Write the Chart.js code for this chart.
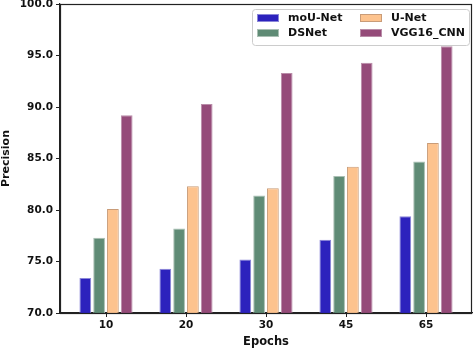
<!DOCTYPE html>
<html>
<head>
<meta charset="utf-8">
<script src="https://cdn.jsdelivr.net/npm/chart.js@4.4.0/dist/chart.umd.min.js"></script>
<style>
  html, body { margin: 0; padding: 0; background: #fff; }
  #wrap { width: 474px; height: 361px; }
</style>
</head>
<body>
<div id="wrap"><canvas id="precisionChart"></canvas></div>
<script>
// Data
const epochs = ['10', '20', '30', '45', '65'];
const mouNet = [73.4, 74.3, 75.2, 77.1, 79.4];
const dsNet = [77.3, 78.2, 81.4, 83.3, 84.7];
const uNet = [80.1, 82.3, 82.1, 84.2, 86.5];
const vggCnn = [89.2, 90.3, 93.3, 94.3, 95.9];
const yTicks = [70, 75, 80, 85, 90, 95, 100];

const FONT = 'DejaVu Sans';

// legend drawn matplotlib style, 2 columns inside the axes
const boxLegend = {
    id: 'boxLegend',
    afterDraw(chart) {
        const ctx = chart.ctx;
        const area = chart.chartArea;
        // frame round the axes (top/right spines)
        ctx.save();
        ctx.strokeStyle = '#222';
        ctx.lineWidth = 1.2;
        ctx.strokeRect(area.left + 0.5, area.top + 0.5, area.right - area.left - 1, area.bottom - area.top);
        ctx.restore();

        const x0 = 252, y0 = 9, w = 217, h = 36;
        ctx.save();
        ctx.fillStyle = 'rgba(255,255,255,0.85)';
        ctx.strokeStyle = '#cccccc';
        ctx.lineWidth = 1;
        ctx.beginPath();
        ctx.roundRect(x0 + 0.5, y0 + 0.5, w, h, 3);
        ctx.fill();
        ctx.stroke();

        const cols = [257, 360];
        const rows = [18, 33];
        ctx.font = 'bold 11px "' + FONT + '"';
        ctx.textBaseline = 'middle';
        chart.data.datasets.forEach((ds, i) => {
            const cx = cols[Math.floor(i / 2)];
            const cy = rows[i % 2];
            ctx.fillStyle = ds.backgroundColor;
            ctx.fillRect(cx, cy - 4, 22, 8);
            ctx.strokeStyle = ds.borderColor;
            ctx.strokeRect(cx + 0.5, cy - 3.5, 21, 7);
            ctx.fillStyle = '#111';
            ctx.fillText(ds.label, cx + 31, cy + 0.5);
        });
        ctx.restore();
    }
};

window.onload = function() {
    new Chart(document.getElementById('precisionChart'), {
        type: 'bar',
        data: {
            labels: epochs,
            datasets: [
                { label: 'moU-Net', data: mouNet, backgroundColor: '#2c22bd', borderColor: '#8a86d8', borderWidth: 1 },
                { label: 'DSNet', data: dsNet, backgroundColor: '#5f8b75', borderColor: '#a9bfb3', borderWidth: 1 },
                { label: 'U-Net', data: uNet, backgroundColor: '#fdc38e', borderColor: '#c99c78', borderWidth: 1 },
                { label: 'VGG16_CNN', data: vggCnn, backgroundColor: '#954b79', borderColor: '#b98ca8', borderWidth: 1 }
            ]
        },
        options: {
            responsive: true,
            maintainAspectRatio: false,
            animation: false,
            categoryPercentage: 0.69,
            barPercentage: 0.85,
            layout: { padding: { top: 4, right: 2, left: 0, bottom: 12 } },
            plugins: {
                legend: { display: false },
                tooltip: { enabled: false }
            },
            scales: {
                x: {
                    grid: { offset: false, drawOnChartArea: false, tickLength: 4, color: '#222' },
                    border: { color: '#222', width: 1.2 },
                    ticks: { color: '#111', font: { family: FONT, size: 10.5, weight: 'bold' }, padding: 2 },
                    title: { display: true, text: 'Epochs', color: '#111', font: { family: FONT, size: 11.5, weight: 'bold' }, padding: { top: 2, bottom: 0 } },
                    afterFit(scale) { scale.height = 36; },
                    afterUpdate(scale) {
                        // matplotlib style side margins
                        scale._startValue = -0.575;
                        scale._valueRange = 5.15;
                    }
                },
                y: {
                    min: 70,
                    max: 100,
                    afterBuildTicks(scale) { scale.ticks = yTicks.map(v => ({ value: v })); },
                    grid: { drawOnChartArea: false, tickLength: 4, color: '#222' },
                    border: { color: '#222', width: 1.2 },
                    ticks: {
                        color: '#111',
                        font: { family: FONT, size: 10.5, weight: 'bold' },
                        padding: 3,
                        callback: v => Number(v).toFixed(1)
                    },
                    title: { display: true, text: 'Precision', color: '#111', font: { family: FONT, size: 11, weight: 'bold' }, padding: { top: 0, bottom: 0 } },
                    afterFit(scale) {
                        scale.width = 60;
                        scale.paddingTop = 0;
                        scale.paddingBottom = 0;
                    }
                }
            }
        },
        plugins: [boxLegend]
    });
};
</script>
</body>
</html>
